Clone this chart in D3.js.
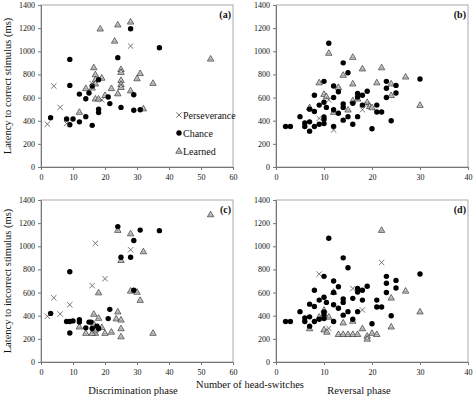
<!DOCTYPE html>
<html>
<head>
<meta charset="utf-8">
<script src="https://cdn.jsdelivr.net/npm/d3@7"></script>
<style>
  body { margin: 0; background: #fff; }
  text { font-family: "Liberation Serif", "Times New Roman", serif; fill: #111; }
  .axis-label { font-size: 10.5px; }
</style>
</head>
<body>
<svg id="chart"></svg>
<script>
// number of head-switches vs latency (ms), [x, y] pairs
// (a) discrimination phase, correct stimulus
const persevA = [[2,370],[4,700],[6,515],[8,375],[16,720],[19,580],[28,1045]];
const chanceA = [[3,425],[8,415],[9,930],[9,705],[9,365],[10,415],[12,630],[12,390],[14,590],[14,435],
  [15,640],[16,360],[16,700],[18,755],[18,500],[18,470],[21,605],[21.5,548],[24,945],[25,515],
  [28,1195],[29,625],[29,490],[31,495],[37,1030]];
const learnedA = [[12,475],[14,680],[16.5,860],[17,800],[17,755],[17,720],[16,685],[17,590],[18,590],
  [18.5,1195],[19,770],[20,620],[22,680],[23,1090],[24,1230],[24,635],[25,845],[25,820],[25,750],
  [25,715],[25,690],[28,1255],[28,660],[30,765],[31,810],[32,505],[35,725],[53,935]];

// (b) reversal phase, correct stimulus
const persevB = [[9,420],[11,580],[12,320],[18,495],[19,540]];
const chanceRev = [[2,350],[3,350],[5,435],[6,380],[6,350],[7,310],[7,390],[7,500],[8,620],[8,480],
  [8,350],[9,535],[9,370],[10,740],[10,560],[10,433],[10,410],[10,375],[10.5,515],[11,1070],
  [12,700],[12,600],[12,350],[12,495],[13,650],[13,465],[14,900],[14,545],[14,515],[14,405],
  [15,815],[15,435],[16,370],[16,550],[17,635],[17,605],[17,435],[18,620],[18,535],[19,655],
  [20,330],[21,535],[21,475],[22,475],[23,740],[23,680],[23,600],[24,400],[25,705],[25,640],[30,760]];
const learnedB = [[7,515],[9,730],[10,630],[10.5,610],[11,985],[12,475],[13,690],[14,795],[15,495],
  [16,950],[16,720],[16,575],[17,590],[18,850],[19,560],[19.5,525],[20,515],[21,730],[22,860],
  [24,720],[24,620],[27,780],[30,535]];

// (c) discrimination phase, incorrect stimulus
const persevC = [[2,395],[4,555],[6,415],[9,495],[16,660],[17,1025],[20,720],[28,970]];
const chanceC = [[3,420],[8,350],[9,350],[10,355],[9,780],[9,250],[12,365],[12,345],[14,295],[15,345],
  [15.6,345],[16,290],[17.5,310],[18,290],[21,375],[21.5,455],[24,1170],[25,905],[28,905],[29,1050],
  [29,620],[31,1140],[37,1135]];
const learnedC = [[12,305],[14,250],[16.5,415],[16.5,330],[16.5,275],[17,250],[16,250],[17,280],[18,600],
  [18,380],[19,300],[20,250],[22,260],[23.5,375],[24,435],[24,1140],[25,880],[25,365],[25,290],
  [25,220],[28,1110],[28,615],[30,605],[31,535],[32,955],[35,250],[53,1275]];

// (d) reversal phase, incorrect stimulus (chance trials same as (b))
const persevD = [[9,760],[11,290],[16,635],[18,450],[22,860]];
const learnedD = [[7,290],[9,390],[10,450],[10,405],[10,280],[10.6,260],[11,390],[12,605],[13,240],
  [14,340],[14,240],[15,240],[16,355],[16,240],[17,240],[18,290],[19,225],[19,200],[20,250],
  [21,240],[22,1140],[24,555],[24,305],[27,615],[30,435]];

const yTicks = [0, 200, 400, 600, 800, 1000, 1200, 1400];
const xTicksDisc = [0, 10, 20, 30, 40, 50, 60];
const xTicksRev = [0, 10, 20, 30, 40];
const legendItems = ['Perseverance', 'Chance', 'Learned'];

const width = 474, height = 397;
const svg = d3.select('#chart').attr('width', width).attr('height', height);

const panels = [
  { label: '(a)', x0: 41, x1: 233, y0: 5, y1: 167, xt: xTicksDisc, p: persevA, c: chanceA, l: learnedA, legend: true },
  { label: '(b)', x0: 276, x1: 468, y0: 5, y1: 167, xt: xTicksRev, p: persevB, c: chanceRev, l: learnedB },
  { label: '(c)', x0: 41, x1: 233, y0: 200, y1: 362, xt: xTicksDisc, p: persevC, c: chanceC, l: learnedC },
  { label: '(d)', x0: 276, x1: 468, y0: 200, y1: 362, xt: xTicksRev, p: persevD, c: chanceRev, l: learnedD }
];

const triPath = 'M0,-3.3L3.2,2.3L-3.2,2.3Z';

const drawTri = (sel, x, y) => {
  sel.append('path')
    .attr('d', triPath)
    .attr('transform', `translate(${x},${y})`)
    .attr('fill', '#cfcfcf')
    .attr('stroke', '#333')
    .attr('stroke-width', 0.7);
  sel.append('line')
    .attr('x1', x - 1.7).attr('x2', x + 1.7)
    .attr('y1', y + 0.6).attr('y2', y + 0.6)
    .attr('stroke', '#777').attr('stroke-width', 0.6);
};
const drawDot = (sel, x, y) => {
  sel.append('circle').attr('cx', x).attr('cy', y).attr('r', 2.7).attr('fill', '#000');
};
const drawCross = (sel, x, y) => {
  const s = 2.7;
  sel.append('path')
    .attr('d', `M${x - s},${y - s}L${x + s},${y + s}M${x - s},${y + s}L${x + s},${y - s}`)
    .attr('stroke', '#555').attr('stroke-width', 0.8).attr('fill', 'none');
};

panels.forEach(pn => {
  const xScale = d3.scaleLinear().domain([0, d3.max(pn.xt)]).range([pn.x0, pn.x1]);
  const yScale = d3.scaleLinear().domain([0, 1400]).range([pn.y1, pn.y0]);

  const g = svg.append('g');

  // frame
  g.append('rect')
    .attr('x', pn.x0).attr('y', pn.y0)
    .attr('width', pn.x1 - pn.x0).attr('height', pn.y1 - pn.y0)
    .attr('fill', 'none').attr('stroke', '#aaa').attr('stroke-width', 1);

  const xAxisG = g.append('g')
    .attr('transform', `translate(0,${pn.y1})`)
    .call(d3.axisBottom(xScale).tickValues(pn.xt).tickFormat(d3.format('d')).tickSize(3).tickPadding(4));
  const yAxisG = g.append('g')
    .attr('transform', `translate(${pn.x0},0)`)
    .call(d3.axisLeft(yScale).tickValues(yTicks).tickFormat(d3.format('d')).tickSize(3).tickPadding(3));
  [xAxisG, yAxisG].forEach(a => {
    a.attr('font-family', '"Liberation Serif", serif').attr('font-size', 8);
    a.select('.domain').attr('stroke', '#777');
    a.selectAll('.tick line').attr('stroke', '#777');
    a.selectAll('.tick text').attr('fill', '#111');
  });

  pn.l.forEach(d => drawTri(g, xScale(d[0]), yScale(d[1])));
  pn.c.forEach(d => drawDot(g, xScale(d[0]), yScale(d[1])));
  pn.p.forEach(d => drawCross(g, xScale(d[0]), yScale(d[1])));

  g.append('text')
    .attr('x', pn.x1 - 2).attr('y', pn.y0 + 13)
    .attr('text-anchor', 'end')
    .attr('font-size', '10px').attr('font-weight', 'bold')
    .text(pn.label);

  if (pn.legend) {
    const lg = g.append('g').attr('transform', `translate(${pn.x0 + 138},0)`);
    legendItems.forEach((name, i) => {
      const y = 115 + i * 18;
      if (i === 0) drawCross(lg, 0, y);
      if (i === 1) drawDot(lg, 0, y);
      if (i === 2) drawTri(lg, 0, y);
      lg.append('text')
        .attr('x', 4).attr('y', y).attr('dy', '0.35em')
        .attr('font-size', '10px')
        .text(name);
    });
  }
});

// axis titles
svg.append('text')
  .attr('class', 'axis-label')
  .attr('transform', `translate(11,86) rotate(-90)`)
  .attr('text-anchor', 'middle')
  .text('Latency to correct stimulus (ms)');
svg.append('text')
  .attr('class', 'axis-label')
  .attr('transform', `translate(11,281) rotate(-90)`)
  .attr('text-anchor', 'middle')
  .text('Latency to incorrect stimulus (ms)');
svg.append('text')
  .attr('class', 'axis-label')
  .attr('x', 133).attr('y', 394)
  .attr('text-anchor', 'middle')
  .text('Discrimination phase');
svg.append('text')
  .attr('class', 'axis-label')
  .attr('x', 250).attr('y', 388)
  .attr('text-anchor', 'middle')
  .text('Number of head-switches');
svg.append('text')
  .attr('class', 'axis-label')
  .attr('x', 359).attr('y', 394)
  .attr('text-anchor', 'middle')
  .text('Reversal phase');
</script>
</body>
</html>
